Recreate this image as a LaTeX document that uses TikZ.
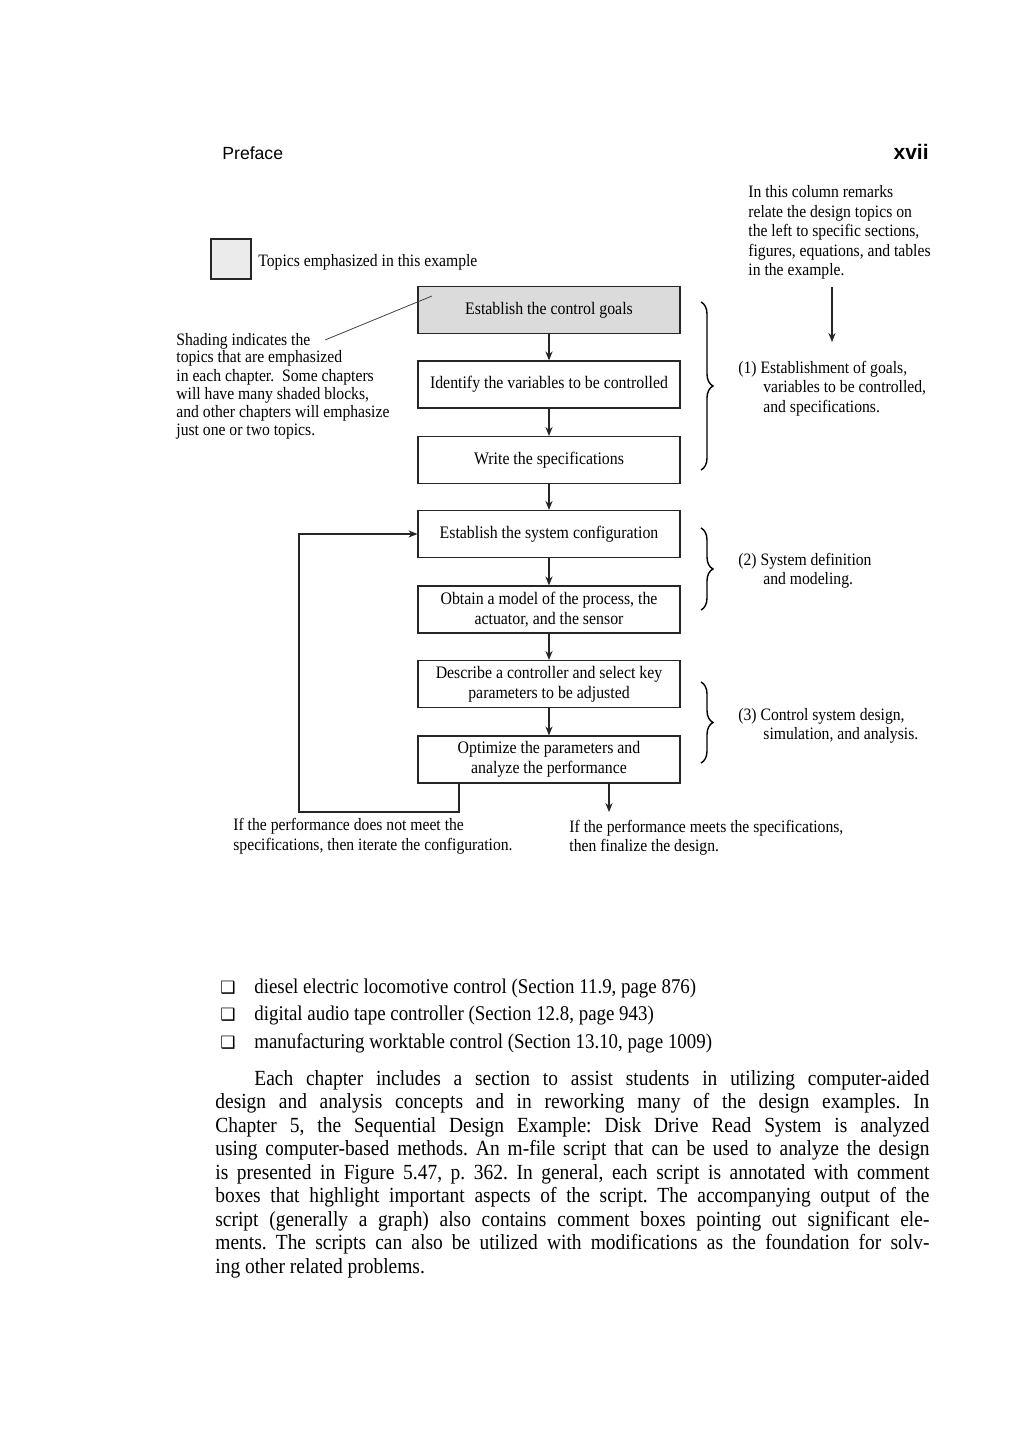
\documentclass[tikz,border=0pt]{standalone}
\usepackage{fontspec}
\setmainfont{Liberation Serif}[FakeStretch=0.9]
\newfontfamily\headfont{Liberation Sans}
\newfontfamily\symbfont{DejaVu Sans}
\usetikzlibrary{positioning,arrows.meta,decorations.pathreplacing}
\newcommand{\boxfont}{\fontsize{8.8}{10}\selectfont}
\newcommand{\notefont}{\fontsize{8.7}{9.75}\selectfont}
\newcommand{\bodyline}[1]{\makebox[357pt][s]{#1}}
\newcommand{\hang}{\hspace*{12.5pt}}

\begin{document}
\frenchspacing
\begin{tikzpicture}[x=0.5pt,y=-0.5pt,
    stepbox/.style={draw=black!85, line width=0.6pt, minimum width=131pt,
        minimum height=23.5pt, align=center, font=\boxfont, inner sep=1pt},
    shaded/.style={stepbox, fill=black!14},
    flow/.style={-{Stealth[length=4.5pt,width=3.6pt]}, line width=0.6pt, black!85},
    note/.style={anchor=base west, align=left, inner sep=0pt, font=\notefont},
    curly/.style={decorate, decoration={brace, amplitude=6pt}, line width=0.7pt}]
    \useasboundingbox (0,0) rectangle (1024,1444);

                %Header (multi-line notes are placed by their last baseline)
                \node[anchor=base west, inner sep=0pt, font=\headfont\fontsize{8.8}{10}\selectfont] at (222,160) (preface) {Preface};
                \node[anchor=base east, inner sep=0pt, font=\headfont\bfseries\fontsize{10.5}{12}\selectfont] at (929,160) (pageno) {xvii};

                %Legend
                \node[draw=black!85, line width=0.6pt, fill=black!8, minimum size=20pt, inner sep=0pt] at (231,259) (legend) {};
                \node[note] at (258,267) (legendtext) {Topics emphasized in this example};

                %Boxes
                \node[shaded]  at (549,310)   (goals)  {Establish the control goals};
                \node[stepbox] at (549,384.5) (vars)   {Identify the variables to be controlled};
                \node[stepbox] at (549,460)   (specs)  {Write the specifications};
                \node[stepbox] at (549,534)   (config) {Establish the system configuration};
                \node[stepbox] at (549,609.5) (model)  {Obtain a model of the process, the\\ actuator, and the sensor};
                \node[stepbox] at (549,684)   (ctrl)   {Describe a controller and select key\\ parameters to be adjusted};
                \node[stepbox] at (549,759.5) (optim)  {Optimize the parameters and\\ analyze the performance};

                %Notes
                \node[note, font=\fontsize{8.7}{9}\selectfont] at (176,435) (shading) {Shading indicates the\\ topics that are emphasized\\ in each chapter.\ \ Some chapters\\ will have many shaded blocks,\\ and other chapters will emphasize\\ just one or two topics.};
                \node[note] at (748,276) (remarks) {In this column remarks\\ relate the design topics on\\ the left to specific sections,\\ figures, equations, and tables\\ in the example.};
                \node[note] at (738,412) (stage1) {(1) Establishment of goals,\\ \hang variables to be controlled,\\ \hang and specifications.};
                \node[note] at (738,584.5) (stage2) {(2) System definition\\ \hang and modeling.};
                \node[note] at (738,739.5) (stage3) {(3) Control system design,\\ \hang simulation, and analysis.};
                \node[note] at (233,850) (iterate) {If the performance does not meet the\\ specifications, then iterate the configuration.};
                \node[note] at (569,851.5) (finalize) {If the performance meets the specifications,\\ then finalize the design.};

                %Coordinates
                \coordinate (leadstart) at (325,340);
                \coordinate (leadend)   at (432,296);
                \coordinate (remtop)    at (832,287);
                \coordinate (rembottom) at (832,342);
                \coordinate (loopdown)  at (459,812);
                \coordinate (loopleft)  at (299,812);
                \coordinate (done)      at (609,812);

                %Lines
                \draw[line width=0.4pt, black!75] (leadstart) -- (leadend);
                \draw[flow] (remtop) -- (rembottom);
                \draw[flow] (goals) -- (vars);
                \draw[flow] (vars) -- (specs);
                \draw[flow] (specs) -- (config);
                \draw[flow] (config) -- (model);
                \draw[flow] (model) -- (ctrl);
                \draw[flow] (ctrl) -- (optim);
                \draw[flow] (optim.south -| done) -- (done);
                \draw[flow] (optim.south -| loopdown) -- (loopdown) -- (loopleft) |- (config.west);

                %Braces
                \draw[curly] (701,302) -- (701,470);
                \draw[curly] (701,528) -- (701,610);
                \draw[curly] (701,682) -- (701,763);

                %Text below
                \foreach \y/\name/\txt in {993/item1/{diesel electric locomotive control (Section 11.9, page 876)},
                                           1020/item2/{digital audio tape controller (Section 12.8, page 943)},
                                           1048/item3/{manufacturing worktable control (Section 13.10, page 1009)}}{
                    \node[anchor=base west, inner sep=0pt, font=\symbfont\fontsize{8.5}{10}\selectfont] at (220,\y) (\name box) {❑};
                    \node[anchor=base west, inner sep=0pt, font=\fontsize{10.5}{12}\selectfont] at (254,\y) (\name) {\txt};
                }
                \node[anchor=base west, align=left, inner sep=0pt, font=\fontsize{10.8}{11.75}\selectfont] at (215,1273) (para) {%
                    \hspace*{19.5pt}\makebox[337.5pt][s]{Each chapter includes a section to assist students in utilizing computer-aided}\\
                    \bodyline{design and analysis concepts and in reworking many of the design examples. In}\\
                    \bodyline{Chapter 5, the Sequential Design Example: Disk Drive Read System is analyzed}\\
                    \bodyline{using computer-based methods. An m-file script that can be used to analyze the design}\\
                    \bodyline{is presented in Figure 5.47, p. 362. In general, each script is annotated with comment}\\
                    \bodyline{boxes that highlight important aspects of the script. The accompanying output of the}\\
                    \bodyline{script (generally a graph) also contains comment boxes pointing out significant ele-}\\
                    \bodyline{ments. The scripts can also be utilized with modifications as the foundation for solv-}\\
                    ing other related problems.};
            \end{tikzpicture}
\end{document}
